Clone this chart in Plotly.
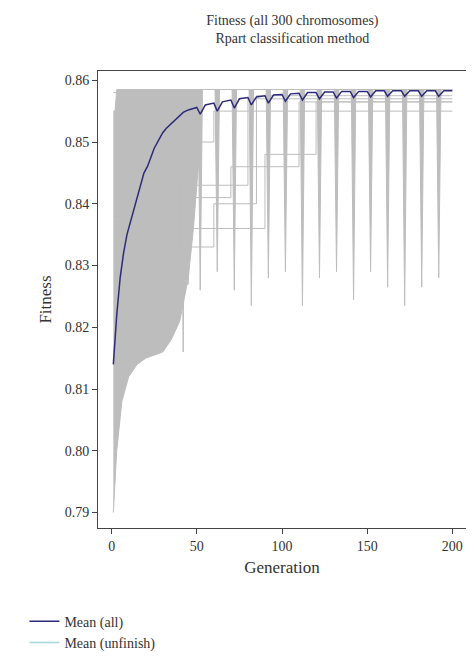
import plotly.graph_objects as go

# mean fitness (all chromosomes)
mean_gen = [1, 3, 5, 7, 9, 11, 13, 15, 17, 19, 21, 23, 25, 28, 30, 32, 35, 38, 40, 42, 45, 50, 52, 55,
            60, 62, 65, 70, 72, 75, 80, 82, 85, 90, 92, 95, 100, 102, 105, 110, 112, 115, 120, 122, 125,
            130, 132, 135, 140, 142, 145, 150, 152, 155, 160, 162, 165, 170, 172, 175, 180, 182, 185,
            190, 192, 195, 200]
mean_fit = [0.814, 0.822, 0.828, 0.832, 0.835, 0.837, 0.839, 0.841, 0.843, 0.845, 0.846, 0.8475, 0.849,
            0.8505, 0.8515, 0.8522, 0.853, 0.8537, 0.8543, 0.8548, 0.8552, 0.8556, 0.8545, 0.8560,
            0.8563, 0.8550, 0.8565, 0.8568, 0.8555, 0.8570, 0.8572, 0.8560, 0.8573, 0.8575, 0.8563,
            0.8576, 0.8577, 0.8566, 0.8578, 0.8579, 0.8568, 0.8580, 0.8580, 0.8570, 0.8581, 0.8581,
            0.8571, 0.8582, 0.8582, 0.8572, 0.8582, 0.8582, 0.8573, 0.8583, 0.8583, 0.8574, 0.8583,
            0.8583, 0.8574, 0.8583, 0.8583, 0.8574, 0.8583, 0.8583, 0.8574, 0.8583, 0.8583]

# lower / upper envelope of the chromosome lines (dense early region)
env_gen = [1, 2, 3, 6, 10, 15, 20, 30, 35, 40, 45, 48, 52]
env_low = [0.790, 0.796, 0.800, 0.808, 0.812, 0.814, 0.815, 0.816, 0.818, 0.821, 0.828, 0.836, 0.850]
env_high = [0.855, 0.855, 0.8585, 0.8585, 0.8585, 0.8585, 0.8585, 0.8585, 0.8585, 0.8585, 0.8585,
            0.8585, 0.8585]

# periodic drops of the chromosome lines
spike_gen = [42, 52, 62, 72, 82, 92, 102, 112, 122, 132, 142, 152, 162, 172, 182, 192]
spike_low = [0.816, 0.826, 0.829, 0.826, 0.8235, 0.828, 0.829, 0.8235, 0.828, 0.829, 0.8245,
             0.829, 0.8265, 0.8235, 0.8265, 0.828]

# a few individual step lines
steps = [
    ([1, 20, 20, 60, 60, 200], [0.838, 0.838, 0.850, 0.850, 0.855, 0.855]),
    ([5, 40, 40, 80, 80, 200], [0.832, 0.832, 0.843, 0.843, 0.857, 0.857]),
    ([10, 45, 45, 90, 90, 120, 120, 200], [0.827, 0.827, 0.836, 0.836, 0.848, 0.848, 0.8565, 0.8565]),
    ([20, 60, 60, 85, 85, 200], [0.833, 0.833, 0.840, 0.840, 0.8575, 0.8575]),
    ([30, 70, 70, 110, 110, 200], [0.841, 0.841, 0.846, 0.846, 0.8565, 0.8565]),
    ([1, 50, 50, 200], [0.858, 0.858, 0.8585, 0.8585]),
]

gray = "#bdbdbd"
fig = go.Figure()
fig.add_trace(go.Scatter(x=env_gen, y=env_high, mode="lines", line=dict(color=gray, width=1),
                         showlegend=False, hoverinfo="skip"))
fig.add_trace(go.Scatter(x=env_gen, y=env_low, mode="lines", line=dict(color=gray, width=1),
                         fill="tonexty", fillcolor=gray, showlegend=False, hoverinfo="skip"))
for xs, ys in steps:
    fig.add_trace(go.Scatter(x=xs, y=ys, mode="lines", line=dict(color=gray, width=1),
                             showlegend=False, hoverinfo="skip"))
for g, lo in zip(spike_gen, spike_low):
    fig.add_trace(go.Scatter(x=[g - 1.3, g, g + 1.3], y=[0.8585, lo, 0.8585], mode="lines",
                             line=dict(color=gray, width=1), fill="toself", fillcolor=gray,
                             showlegend=False, hoverinfo="skip"))
fig.add_trace(go.Scatter(x=[50, 200], y=[0.8585, 0.8585], mode="lines",
                         line=dict(color=gray, width=1), showlegend=False))
fig.add_trace(go.Scatter(x=mean_gen, y=mean_fit, mode="lines", name="Mean (all)",
                         line=dict(color="#2e2a7a", width=1.5)))
fig.add_trace(go.Scatter(x=[None], y=[None], mode="lines", name="Mean (unfinish)",
                         line=dict(color="#a8d8d8", width=1.5)))

fig.update_layout(
    width=474, height=663, plot_bgcolor="white", paper_bgcolor="white",
    font=dict(family="Liberation Serif", size=14, color="#333"),
    margin=dict(l=90, r=16, t=63, b=135),
    title=dict(text="Fitness (all 300 chromosomes)<br>Rpart classification method",
               x=0.6, xanchor="center", y=0.975, font=dict(size=14)),
    xaxis=dict(title=dict(text="Generation", standoff=8), range=[-8, 208], tickvals=[0, 50, 100, 150, 200],
               showgrid=False, zeroline=False, showline=True, mirror=True, linecolor="#444",
               ticks="outside", ticklen=5),
    yaxis=dict(title=dict(text="Fitness", standoff=8), range=[0.7875, 0.8615],
               tickvals=[0.79, 0.80, 0.81, 0.82, 0.83, 0.84, 0.85, 0.86], tickformat=".2f",
               showgrid=False, zeroline=False, showline=True, mirror=True, linecolor="#444",
               ticks="outside", ticklen=5),
    legend=dict(x=-0.2, y=-0.17, xanchor="left", yanchor="top", bgcolor="rgba(0,0,0,0)",
                traceorder="normal", tracegroupgap=0),
)
fig.write_html("out.html")
